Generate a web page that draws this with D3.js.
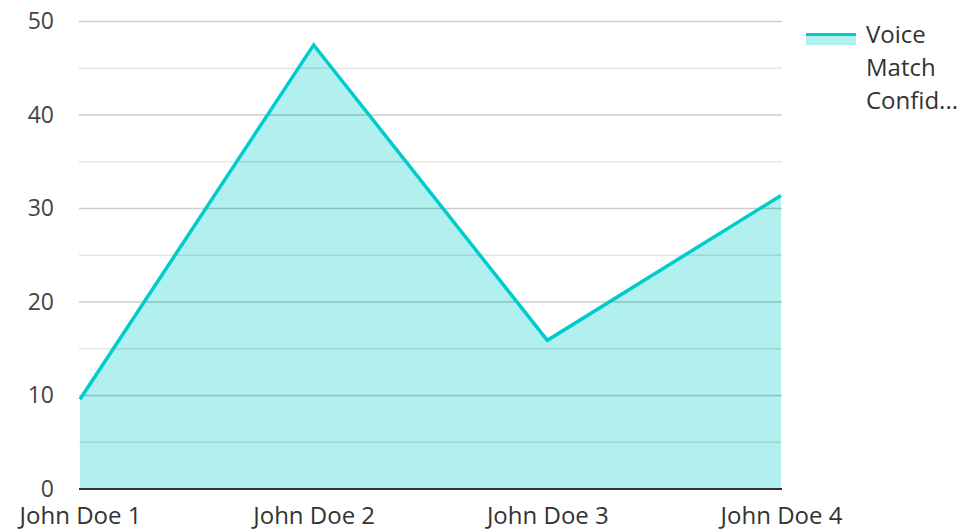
<!DOCTYPE html>
<html>
<head>
<meta charset="utf-8">
<script src="https://cdn.jsdelivr.net/npm/d3@7"></script>
<style>
  body { margin: 0; background: #fff; }
  text { font-family: "Open Sans", sans-serif; }
</style>
</head>
<body>
<div id="vis"></div>
<script>
var names = ["John Doe 1", "John Doe 2", "John Doe 3", "John Doe 4"];
var confidence = [9.6, 47.5, 15.9, 31.4];
var yTicks = [0, 10, 20, 30, 40, 50];
var minorTicks = [5, 15, 25, 35, 45];
var legendLines = ["Voice", "Match", "Confid..."];

var width = 963, height = 531;
var margin = { top: 21.5, right: 182, bottom: 42, left: 80 };

var lineColor = "#00cccc";
var fillColor = "#b2efef";

var svg = d3.select("#vis")
  .append("svg")
  .attr("width", width)
  .attr("height", height);

var x = d3.scalePoint()
  .domain(names)
  .range([margin.left, width - margin.right]);

var y = d3.scaleLinear()
  .domain([0, 50])
  .range([height - margin.bottom, margin.top]);

var data = names.map(function (d, i) {
  return { name: d, value: confidence[i] };
});

// area fill first, grid goes on top of it
svg.append("path")
  .datum(data)
  .attr("fill", fillColor)
  .attr("d", d3.area()
    .x(function (d) { return x(d.name); })
    .y0(y(0))
    .y1(function (d) { return y(d.value); }));

svg.append("g")
  .selectAll("line")
  .data(minorTicks)
  .enter()
  .append("line")
  .attr("x1", margin.left - 1)
  .attr("x2", width - margin.right + 1)
  .attr("y1", function (d) { return y(d); })
  .attr("y2", function (d) { return y(d); })
  .attr("stroke", "#000")
  .attr("stroke-opacity", 0.1)
  .attr("stroke-width", 1.5);

svg.append("g")
  .selectAll("line")
  .data(yTicks.filter(function (d) { return d > 0; }))
  .enter()
  .append("line")
  .attr("x1", margin.left - 1)
  .attr("x2", width - margin.right + 1)
  .attr("y1", function (d) { return y(d); })
  .attr("y2", function (d) { return y(d); })
  .attr("stroke", "#000")
  .attr("stroke-opacity", 0.2)
  .attr("stroke-width", 1.5);

// data line
svg.append("path")
  .datum(data)
  .attr("fill", "none")
  .attr("stroke", lineColor)
  .attr("stroke-width", 3.5)
  .attr("stroke-linejoin", "miter")
  .attr("d", d3.line()
    .x(function (d) { return x(d.name); })
    .y(function (d) { return y(d.value); }));

// y axis labels
var yAxis = svg.append("g")
  .attr("transform", "translate(" + (margin.left - 26) + ",0)")
  .call(d3.axisLeft(y).tickValues(yTicks).tickSize(0).tickPadding(0));
yAxis.select(".domain").remove();
yAxis.selectAll("text")
  .attr("fill", "#444")
  .style("font-size", "23px")
  .style("font-family", "Open Sans, sans-serif");

// x axis
var xAxis = svg.append("g")
  .attr("transform", "translate(0," + y(0) + ")")
  .call(d3.axisBottom(x).tickSize(0).tickPadding(18));
xAxis.select(".domain")
  .attr("d", "M" + (margin.left - 1) + ",0H" + (width - margin.right + 1))
  .attr("stroke", "#333")
  .attr("stroke-width", 2);
xAxis.selectAll("text")
  .attr("fill", "#333")
  .style("font-size", "24px")
  .style("font-family", "Open Sans, sans-serif");

// legend
var legend = svg.append("g")
  .attr("transform", "translate(806,33)");
legend.append("rect")
  .attr("x", 0)
  .attr("y", 0)
  .attr("width", 50)
  .attr("height", 12)
  .attr("fill", fillColor);
legend.append("line")
  .attr("x1", 0)
  .attr("x2", 50)
  .attr("y1", 1.5)
  .attr("y2", 1.5)
  .attr("stroke", lineColor)
  .attr("stroke-width", 3);
legend.selectAll("text.lg")
  .data(legendLines)
  .enter()
  .append("text")
  .attr("class", "lg")
  .attr("x", 60)
  .attr("y", function (d, i) { return 10 + i * 33; })
  .attr("fill", "#333")
  .style("font-size", "24px")
  .text(function (d) { return d; });
</script>
</body>
</html>
